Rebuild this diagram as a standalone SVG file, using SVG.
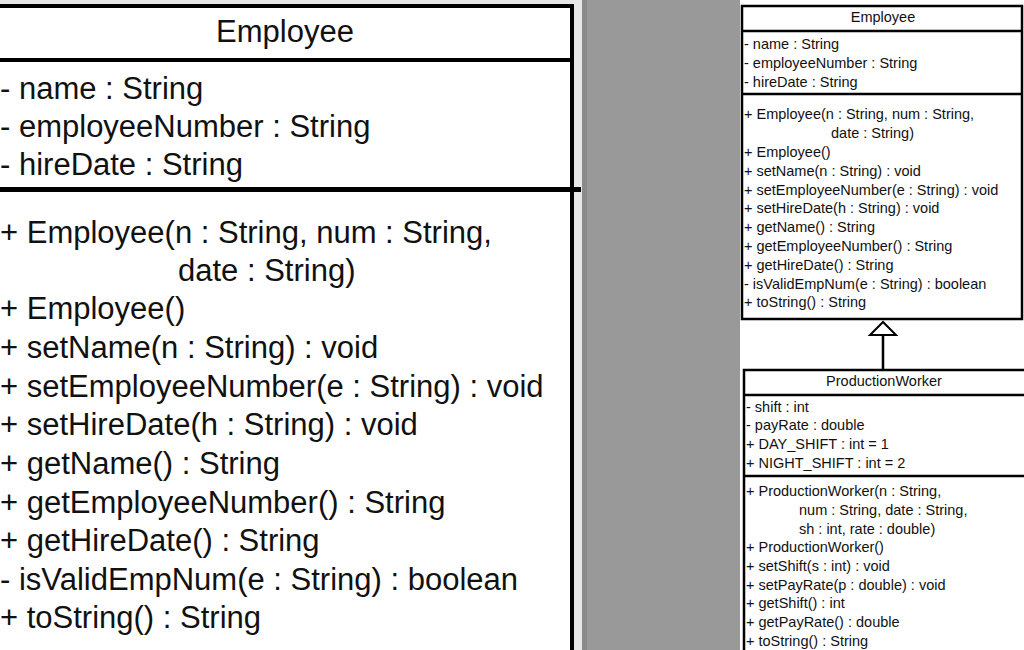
<svg xmlns="http://www.w3.org/2000/svg" width="1024" height="650" viewBox="0 0 1024 650">
<style>
text{font-family:"Liberation Sans",Arial,sans-serif;fill:#111}
.b{font-size:31px}
.s{font-size:14.5px}
.bx{fill:#fff;stroke:#000}
</style>
<rect width="1024" height="650" fill="#fff"/>
<rect x="0" y="0" width="1024" height="4" fill="#e6e6e6"/>
<rect x="574" y="0" width="10" height="650" fill="#e8e8e8"/>
<rect x="582" y="0" width="5" height="650" fill="#8a8a8a"/>
<rect x="587" y="0" width="153" height="650" fill="#999"/>
<g id="left-employee">
<rect x="-5" y="4" width="577" height="660" fill="#fff"/>
<rect x="0" y="4" width="574" height="4" fill="#000"/>
<rect x="0" y="58" width="572" height="4" fill="#000"/>
<rect x="0" y="187" width="581" height="5" fill="#000"/>
<rect x="570" y="4" width="4" height="646" fill="#000"/>
<text class="b" x="285" y="42" text-anchor="middle" font-size="30">Employee</text>
<text class="b" x="0" y="99">- name : String</text>
<text class="b" x="0" y="137">- employeeNumber : String</text>
<text class="b" x="0" y="175">- hireDate : String</text>
<text class="b" x="0" y="243">+ Employee(n : String, num : String,</text>
<text class="b" x="178" y="281">date : String)</text>
<text class="b" x="0" y="319">+ Employee()</text>
<text class="b" x="0" y="358">+ setName(n : String) : void</text>
<text class="b" x="0" y="397">+ setEmployeeNumber(e : String) : void</text>
<text class="b" x="0" y="435">+ setHireDate(h : String) : void</text>
<text class="b" x="0" y="474">+ getName() : String</text>
<text class="b" x="0" y="513">+ getEmployeeNumber() : String</text>
<text class="b" x="0" y="551">+ getHireDate() : String</text>
<text class="b" x="0" y="590">- isValidEmpNum(e : String) : boolean</text>
<text class="b" x="0" y="628">+ toString() : String</text>
</g>
<rect x="740" y="0" width="284" height="650" fill="#fff"/>
<g id="employee">
<rect class="bx" x="742" y="6" width="280" height="313" stroke-width="2.5"/>
<line x1="742" y1="31" x2="1022" y2="31" stroke="#000" stroke-width="2.5"/>
<line x1="742" y1="94" x2="1022" y2="94" stroke="#000" stroke-width="2.5"/>
<text class="s" x="883" y="22" text-anchor="middle">Employee</text>
<text class="s" x="744" y="49">- name : String</text>
<text class="s" x="744" y="68">- employeeNumber : String</text>
<text class="s" x="744" y="87">- hireDate : String</text>
<text class="s" x="744" y="119">+ Employee(n : String, num : String,</text>
<text class="s" x="831" y="138">date : String)</text>
<text class="s" x="744" y="157">+ Employee()</text>
<text class="s" x="744" y="176">+ setName(n : String) : void</text>
<text class="s" x="744" y="195">+ setEmployeeNumber(e : String) : void</text>
<text class="s" x="744" y="213">+ setHireDate(h : String) : void</text>
<text class="s" x="744" y="232">+ getName() : String</text>
<text class="s" x="744" y="251">+ getEmployeeNumber() : String</text>
<text class="s" x="744" y="270">+ getHireDate() : String</text>
<text class="s" x="744" y="289">- isValidEmpNum(e : String) : boolean</text>
<text class="s" x="744" y="307">+ toString() : String</text>
</g>
<g id="productionworker">
<rect class="bx" x="744" y="370" width="282" height="290" stroke-width="2.5"/>
<line x1="744" y1="395" x2="1024" y2="395" stroke="#000" stroke-width="2.5"/>
<line x1="744" y1="476" x2="1024" y2="476" stroke="#000" stroke-width="2.5"/>
<text class="s" x="884" y="386" text-anchor="middle">ProductionWorker</text>
<text class="s" x="746" y="412">- shift : int</text>
<text class="s" x="746" y="430">- payRate : double</text>
<text class="s" x="746" y="449">+ DAY_SHIFT : int = 1</text>
<text class="s" x="746" y="468">+ NIGHT_SHIFT : int = 2</text>
<text class="s" x="746" y="496">+ ProductionWorker(n : String,</text>
<text class="s" x="799" y="515">num : String,  date : String,</text>
<text class="s" x="799" y="534">sh : int, rate : double)</text>
<text class="s" x="746" y="552">+ ProductionWorker()</text>
<text class="s" x="746" y="571">+ setShift(s : int) : void</text>
<text class="s" x="746" y="590">+ setPayRate(p : double) : void</text>
<text class="s" x="746" y="608">+ getShift() : int</text>
<text class="s" x="746" y="627">+ getPayRate() : double</text>
<text class="s" x="746" y="646">+ toString() : String</text>
</g>
<g id="connectors">
<line x1="883" y1="335" x2="883" y2="369" stroke="#000" stroke-width="2.5"/>
<polygon points="883,322 870,335 896,335" fill="#fff" stroke="#000" stroke-width="2"/>
</g>
</svg>
